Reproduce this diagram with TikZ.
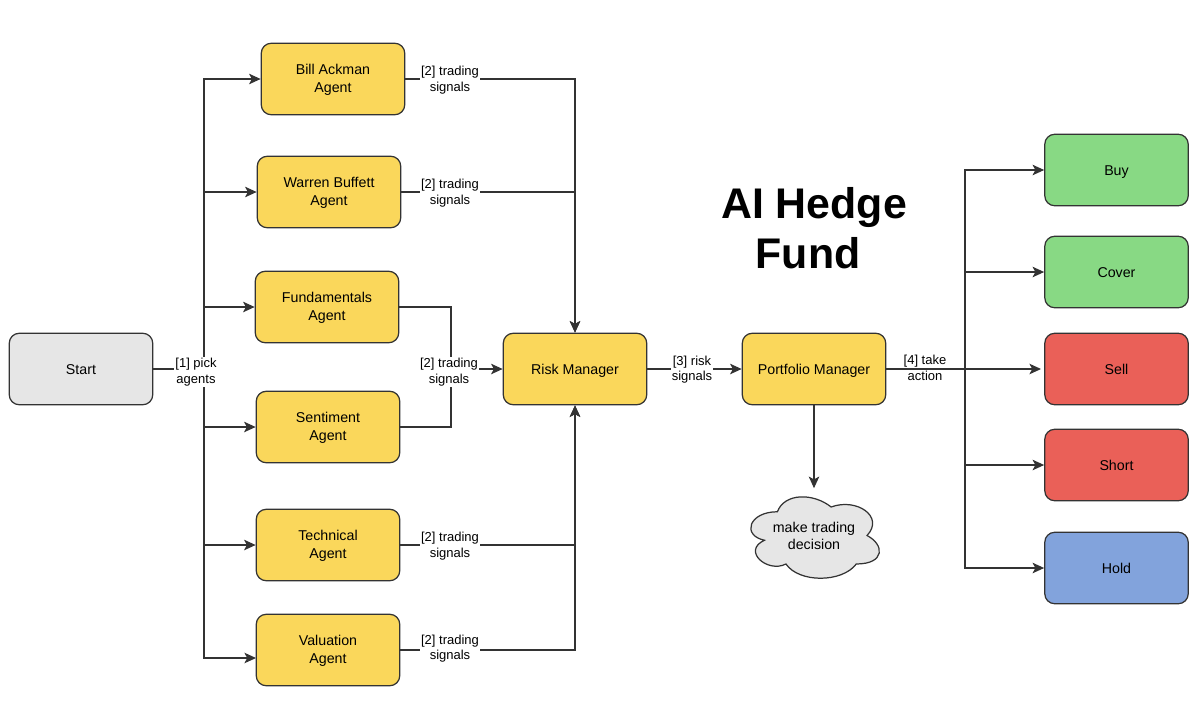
\documentclass[tikz,border=0pt]{standalone}
\usepackage{fontspec}
\setmainfont{Liberation Sans}
\usetikzlibrary{arrows.meta}
\definecolor{agent yellow}{HTML}{FAD75B}
\definecolor{start gray}{HTML}{E6E6E6}
\definecolor{action green}{HTML}{88D984}
\definecolor{action red}{HTML}{EA6058}
\definecolor{action blue}{HTML}{82A3DC}
\definecolor{line dark}{HTML}{333333}
\tikzset{
    box/.style = {draw = line dark, line width = 0.7pt, rounded corners = 0.2cm, minimum width = 2.87cm, minimum height = 1.43cm, inner sep = 0pt, align = center, font = \fontsize{8.1}{9.8}\selectfont, text height = 7.8pt, text depth = 2pt},
    manager/.style = {box, fill = agent yellow},
    agent/.style = {manager, text height = 16.8pt},
    action/.style = {box, fill = #1},
    edge text/.style = {align = center, inner sep = 0.7pt, font = \fontsize{7.4}{8.8}\selectfont},
    signal/.style = {edge text, fill = white},
    link/.style = {draw = line dark, line width = 0.65pt},
    flow/.style = {link, -{Stealth[length = 6.6pt, width = 6pt, inset = 1.6pt]}}
}
\begin{document}
\begin{tikzpicture}[x = 0.02cm, y = -0.02cm]
    \useasboundingbox (0, 0) rectangle (1200, 704);
    \node[action = start gray] (start) at (81, 369) {Start};
    \node[agent] (ackman) at (333, 79) {Bill Ackman \\ Agent};
    \node[agent] (buffett) at (329, 192) {Warren Buffett \\ Agent};
    \node[agent] (fundamentals) at (327, 307) {Fundamentals \\ Agent};
    \node[agent] (sentiment) at (328, 427) {Sentiment \\ Agent};
    \node[agent] (technical) at (328, 545) {Technical \\ Agent};
    \node[agent] (valuation) at (328, 650) {Valuation \\ Agent};
    \node[manager] (risk) at (575, 369) {Risk Manager};
    \node[manager] (portfolio) at (814, 369) {Portfolio Manager};
    \node[action = action green] (buy) at (1116.5, 170) {Buy};
    \node[action = action green] (cover) at (1116.5, 272) {Cover};
    \node[action = action red] (sell) at (1116.5, 369) {Sell};
    \node[action = action red] (short) at (1116.5, 465) {Short};
    \node[action = action blue] (hold) at (1116.5, 568) {Hold};
    \draw[draw = line dark, line width = 0.7pt, fill = start gray, shift = {(741.5, 488)}, x = 2.87cm, y = -1.9cm]
        (0.25, 0.25) .. controls (0.05, 0.25) and (0, 0.5) .. (0.16, 0.55)
        .. controls (0, 0.66) and (0.18, 0.9) .. (0.31, 0.8)
        .. controls (0.4, 1) and (0.7, 1) .. (0.8, 0.8)
        .. controls (1, 0.8) and (1, 0.6) .. (0.875, 0.5)
        .. controls (1, 0.3) and (0.8, 0.1) .. (0.625, 0.2)
        .. controls (0.5, 0.05) and (0.3, 0.05) .. (0.25, 0.25) -- cycle;
    \node[minimum width = 2.87cm, minimum height = 1.9cm, inner sep = 0pt, align = center, font = \fontsize{8.1}{9.8}\selectfont] (decision) at (814, 536) {make trading \\ decision};
    \node[align = center, font = \fontsize{24.4}{28.5}\bfseries\selectfont] (title) at (814, 228) {AI Hedge \\ Fund\rule{0.24cm}{0pt}};
    \coordinate (pick) at (204, 369);
    \coordinate (valuation in) at (256, 658);
    \coordinate (merge) at (451, 369);
    \coordinate (act) at (965, 369);
    \coordinate (sell in) at (1041, 369);
    \draw[link] (start) -- (pick);
    \draw[flow] (pick) |- (ackman);
    \draw[flow] (pick) |- (buffett);
    \draw[flow] (pick) |- (fundamentals);
    \draw[flow] (pick) |- (sentiment);
    \draw[flow] (pick) |- (technical);
    \draw[flow] (pick) |- (valuation in);
    \draw[flow] (ackman) -| (risk);
    \draw[flow] (buffett) -| (risk);
    \draw[link] (fundamentals) -| (merge);
    \draw[link] (sentiment) -| (merge);
    \draw[flow] (merge) -- (risk);
    \draw[flow] (technical) -| (risk);
    \draw[flow] (valuation) -| (risk);
    \draw[flow] (risk) -- (portfolio);
    \draw[flow] (portfolio) -- (decision);
    \draw[link] (portfolio) -- (act);
    \draw[flow] (act) |- (buy);
    \draw[flow] (act) |- (cover);
    \draw[flow] (act) -- (sell in);
    \draw[flow] (act) |- (short);
    \draw[flow] (act) |- (hold);
    \node[signal] (pick label) at (196, 372) {[1] pick \\ agents};
    \node[signal] (ackman label) at (450, 80) {[2] trading \\ signals};
    \node[signal] (buffett label) at (450, 193) {[2] trading \\ signals};
    \node[signal] (merge label) at (449, 372) {[2] trading \\ signals};
    \node[signal] (technical label) at (450, 546) {[2] trading \\ signals};
    \node[signal] (valuation label) at (450, 648.5) {[2] trading \\ signals};
    \node[signal] (risk label) at (692, 369.5) {[3] risk \\ signals};
    \node[edge text] (action label) at (925, 368) {[4] take \\ action};
\end{tikzpicture}
\end{document}
